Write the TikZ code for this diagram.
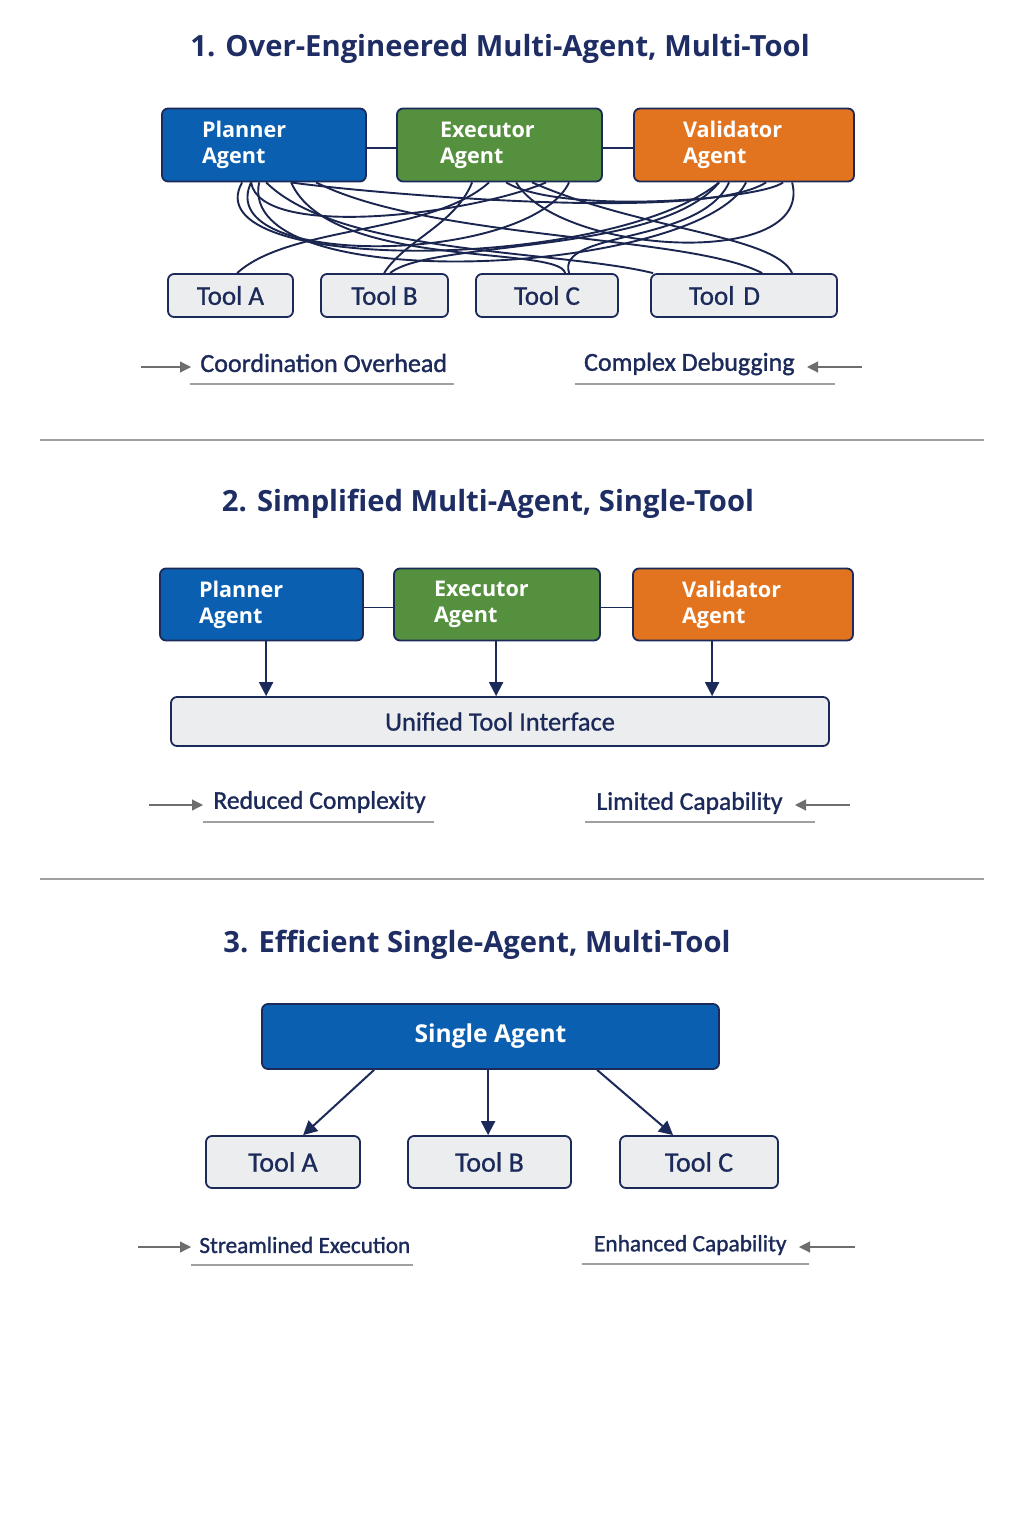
\documentclass[tikz,border=0pt]{standalone}
\usepackage{fontspec}
\setmainfont{Open Sans}
\newfontfamily\labelfont[FakeBold=1.2]{Carlito}
\newfontfamily\toolfont[FakeBold=0.9]{Carlito}
\usetikzlibrary{arrows.meta,calc}
\definecolor{navy}{HTML}{1C2A5A}
\definecolor{titlec}{HTML}{1E2D63}
\definecolor{pblue}{HTML}{0B5FB0}
\definecolor{egreen}{HTML}{55903F}
\definecolor{vorange}{HTML}{E2741F}
\definecolor{toolfill}{HTML}{ECEDEF}
\definecolor{sepgray}{HTML}{A0A0A0}
\definecolor{arrgray}{HTML}{6E6E6E}
\definecolor{tanglec}{HTML}{1A2550}
\tikzset{
  agentbox/.style={draw=navy, line width=0.9pt, rounded corners=3pt, text=white,
    font=\bfseries\fontsize{10.8}{13}\selectfont, align=left, inner ysep=0pt},
  toolbox/.style={draw=navy, line width=0.9pt, rounded corners=3pt, fill=toolfill,
    text=navy, font=\toolfont\fontsize{13.5}{15}\selectfont, inner sep=0pt},
  titletext/.style={text=titlec, font=\bfseries\fontsize{14.6}{17}\selectfont},
  lbltext/.style={text=navy, font=\labelfont\fontsize{13}{15}\selectfont, inner sep=0pt},
  grayarrow/.style={draw=arrgray, line width=0.6pt, -{Triangle[length=5.5pt,width=5.5pt]}},
  underl/.style={draw=sepgray, line width=0.7pt},
  tangle/.style={draw=tanglec, line width=0.95pt},
  navyarrow/.style={draw=navy, line width=1pt, -{Triangle[length=7pt,width=7pt]}},
  linkline/.style={draw=navy, line width=0.8pt}
}
\begin{document}
\begin{tikzpicture}[x=0.5pt,y=-0.5pt]
\fill[white] (0,0) rectangle (1024,1536);
\useasboundingbox (0,0) rectangle (1024,1536);

% ---------- Section 1 ----------
\node[titletext] (t1) at (500,49) {1. Over-Engineered Multi-Agent, Multi-Tool};

\node[agentbox, fill=pblue, inner xsep=20pt, text width=62pt, minimum height=36.5pt] (p1) at (264,145) {Planner\\Agent};
\node[agentbox, fill=egreen, inner xsep=21.5pt, text width=59.5pt, minimum height=36.5pt] (e1) at (499.5,145) {Executor\\Agent};
\node[agentbox, fill=vorange, inner xsep=24.5pt, text width=61pt, minimum height=36.5pt] (v1) at (744,145) {Validator\\Agent};
\draw[linkline] ($(p1.east)+(0,3)$) -- ($(e1.west)+(0,3)$);
\draw[linkline] ($(e1.east)+(0,3)$) -- ($(v1.west)+(0,3)$);

\node[toolbox, minimum width=62.5pt, minimum height=21.5pt] (ta) at (230.5,295.5) {Tool A};
\node[toolbox, minimum width=63.5pt, minimum height=21.5pt] (tb) at (384.5,295.5) {Tool B};
\node[toolbox, minimum width=71pt, minimum height=21.5pt] (tc) at (547,295.5) {Tool C};
\node[toolbox, minimum height=21.5pt, inner xsep=19pt, text width=55pt, align=left] (td) at (744,295.5) {Tool D};

% tangle
\draw[tangle] ($(p1.south west)+(81,0)$) .. controls (190,275) and (610,272) .. ($(v1.south west)+(86,0)$);
\draw[tangle] ($(p1.south west)+(98,0)$) .. controls (235,300) and (700,275) .. ($(v1.south west)+(113,0)$);
\draw[tangle] ($(p1.south west)+(105,0)$) .. controls (340,255) and (560,250) .. ($(td.north west)+(3,0)$);
\draw[tangle] ($(p1.south west)+(155,0)$) .. controls (430,240) and (690,235) .. ($(td.north west)+(112,0)$);
\draw[tangle] ($(e1.south west)+(76,0)$) .. controls (455,225) and (405,240) .. ($(tb.north west)+(64,0)$);
\draw[tangle] ($(e1.south west)+(93,0)$) .. controls (430,235) and (290,225) .. ($(ta.north west)+(70,0)$);
\draw[tangle] ($(e1.south west)+(136,0)$) .. controls (640,230) and (775,235) .. ($(td.north west)+(142,0)$);
\draw[tangle] ($(e1.south west)+(173,0)$) .. controls (530,265) and (210,270) .. ($(p1.south west)+(90,0)$);
\draw[tangle] ($(v1.south west)+(86,0)$) .. controls (660,255) and (430,240) .. ($(tb.north west)+(70,0)$);
\draw[tangle] ($(v1.south west)+(96,0)$) .. controls (700,245) and (555,230) .. ($(tc.north west)+(94,0)$);
\draw[tangle] ($(v1.south west)+(133,0)$) .. controls (700,225) and (340,190) .. ($(p1.south west)+(130,0)$);
\draw[tangle] ($(v1.south west)+(159,0)$) .. controls (815,270) and (560,255) .. ($(e1.south west)+(120,0)$);
\draw[tangle] ($(p1.south west)+(130,0)$) .. controls (330,270) and (560,245) .. ($(tc.north west)+(90,0)$);
\draw[tangle] ($(e1.south west)+(110,0)$) .. controls (560,215) and (760,200) .. ($(v1.south west)+(150,0)$);
\draw[tangle] ($(p1.south west)+(90,0)$) .. controls (260,240) and (470,215) .. ($(e1.south west)+(150,0)$);

% labels
\node[lbltext, anchor=west] (l1) at (200,363) {Coordination Overhead};
\coordinate (l1s) at (141,367);
\draw[grayarrow] (l1s) -- ($(l1s -| l1.west)+(-9,0)$);
\draw[underl] (190,384) -- (454,384);
\node[lbltext, anchor=east] (l2) at (795,364) {Complex Debugging};
\coordinate (l2s) at (862,367);
\draw[grayarrow] (l2s) -- ($(l2s -| l2.east)+(12,0)$);
\draw[underl] (575,384) -- (835,384);

\draw[draw=sepgray, line width=0.6pt] (40,440) -- (984,440);

% ---------- Section 2 ----------
\node[titletext] (t2) at (488,504) {2. Simplified Multi-Agent, Single-Tool};

\node[agentbox, fill=pblue, inner xsep=19.5pt, text width=62.5pt, minimum height=36pt] (p2) at (261.5,604.5) {Planner\\Agent};
\node[agentbox, fill=egreen, inner xsep=20pt, text width=63pt, minimum height=36pt] (e2) at (497,604.5) {Executor\\Agent};
\node[agentbox, fill=vorange, inner xsep=24.5pt, text width=61pt, minimum height=36pt] (v2) at (743,604.5) {Validator\\Agent};
\draw[linkline] ($(p2.east)+(0,3)$) -- ($(e2.west)+(0,3)$);
\draw[linkline] ($(e2.east)+(0,3)$) -- ($(v2.west)+(0,3)$);

\node[toolbox, minimum width=329pt, minimum height=24.5pt, font=\toolfont\fontsize{13.2}{15}\selectfont] (u2) at (500,721.5) {Unified Tool Interface};
\draw[navyarrow] ($(p2.south west)+(107,0)$) -- ($(u2.north west)+(96,0)$);
\draw[navyarrow] ($(e2.south west)+(103,0)$) -- ($(u2.north west)+(326,0)$);
\draw[navyarrow] ($(v2.south west)+(80,0)$) -- ($(u2.north west)+(542,0)$);

\node[lbltext, anchor=west, font=\labelfont\fontsize{12.8}{15}\selectfont] (l3) at (213,802) {Reduced Complexity};
\coordinate (l3s) at (149,805);
\draw[grayarrow] (l3s) -- ($(l3s -| l3.west)+(-10,0)$);
\draw[underl] (203,822) -- (434,822);
\node[lbltext, anchor=east, font=\labelfont\fontsize{12.8}{15}\selectfont] (l4) at (783,803) {Limited Capability};
\coordinate (l4s) at (850,805);
\draw[grayarrow] (l4s) -- ($(l4s -| l4.east)+(12,0)$);
\draw[underl] (585,822) -- (815,822);

\draw[draw=sepgray, line width=0.6pt] (40,879) -- (984,879);

% ---------- Section 3 ----------
\node[titletext] (t3) at (477,945) {3. Efficient Single-Agent, Multi-Tool};

\node[agentbox, fill=pblue, minimum width=228.5pt, minimum height=32.5pt, align=center,
  font=\bfseries\fontsize{12.3}{15}\selectfont] (s3) at (490.5,1036.5) {Single Agent};

\node[toolbox, minimum width=77pt, minimum height=26pt, font=\toolfont\fontsize{14}{16}\selectfont] (a3) at (283,1162) {Tool A};
\node[toolbox, minimum width=81.5pt, minimum height=26pt, font=\toolfont\fontsize{14}{16}\selectfont] (b3) at (489.5,1162) {Tool B};
\node[toolbox, minimum width=79pt, minimum height=26pt, font=\toolfont\fontsize{14}{16}\selectfont] (c3) at (699,1162) {Tool C};

\draw[navyarrow] ($(s3.south west)+(113,0)$) -- ($(a3.north west)+(98,0)$);
\draw[navyarrow] ($(s3.south west)+(227,0)$) -- ($(b3.north west)+(81,0)$);
\draw[navyarrow] ($(s3.south west)+(336,0)$) -- ($(c3.north west)+(54,0)$);

\node[lbltext, anchor=west, font=\labelfont\fontsize{11.6}{14}\selectfont] (l5) at (199,1245) {Streamlined Execution};
\coordinate (l5s) at (138,1247);
\draw[grayarrow] (l5s) -- ($(l5s -| l5.west)+(-8,0)$);
\draw[underl] (191,1265) -- (413,1265);
\node[lbltext, anchor=east, font=\labelfont\fontsize{11.7}{14}\selectfont] (l6) at (787,1245) {Enhanced Capability};
\coordinate (l6s) at (855,1247);
\draw[grayarrow] (l6s) -- ($(l6s -| l6.east)+(12,0)$);
\draw[underl] (582,1264) -- (809,1264);
\end{tikzpicture}
\end{document}
